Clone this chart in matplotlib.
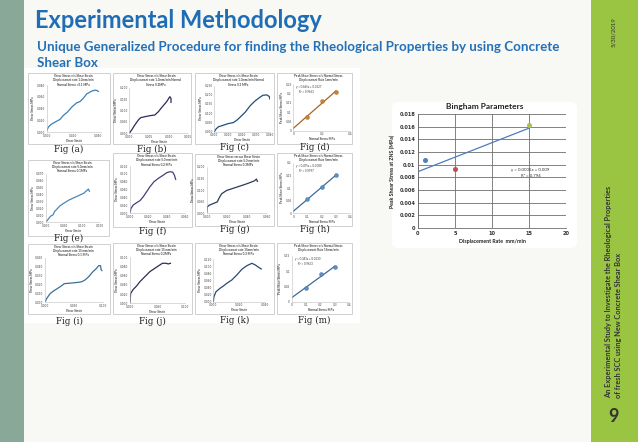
import numpy as np
import matplotlib
matplotlib.use("Agg")
from matplotlib import pyplot as plt
from matplotlib.patches import Rectangle, FancyBboxPatch

# --- shear stress vs shear strain curves (strain, MPa) ---
a_strain = [0, 0.0013, 0.0031, 0.0065, 0.0103, 0.0129, 0.016, 0.0194, 0.0232, 0.0258, 0.0284, 0.031, 0.0348, 0.0374, 0.0392, 0.040]
a_stress = [0.002, 0.0085, 0.0124, 0.0169, 0.0214, 0.0282, 0.0338, 0.0423, 0.0496, 0.0518, 0.0575, 0.0648, 0.0695, 0.0712, 0.0705, 0.0690]
b_strain = [0, 0.0006, 0.0014, 0.0023, 0.0029, 0.004, 0.0053, 0.0065, 0.0074, 0.0082, 0.0095, 0.0103, 0.0106, 0.0106]
b_stress = [0, 0.0146, 0.0365, 0.0584, 0.0686, 0.073, 0.0774, 0.0803, 0.0949, 0.1124, 0.1387, 0.1606, 0.1533, 0.1358]
c_strain = [0, 0.0012, 0.0029, 0.0065, 0.0101, 0.0137, 0.0161, 0.0186, 0.0222, 0.0258, 0.0294, 0.0325, 0.0349, 0.0378, 0.0395, 0.040]
c_stress = [0, 0.0141, 0.0264, 0.0352, 0.044, 0.0493, 0.0616, 0.0792, 0.1056, 0.1408, 0.1673, 0.1849, 0.1972, 0.199, 0.1901, 0.1761]
e_strain = [0, 0.0063, 0.0125, 0.0196, 0.0241, 0.0304, 0.0375, 0.0464, 0.0554, 0.0643, 0.0732, 0.0821, 0.0955, 0.1045, 0.1134, 0.1179, 0.1205]
e_stress = [0, 0.0042, 0.0084, 0.0105, 0.0155, 0.0188, 0.023, 0.0264, 0.0293, 0.0322, 0.0343, 0.0364, 0.0397, 0.0418, 0.046, 0.0481, 0.0448]
f_strain = [0, 0.0011, 0.0036, 0.0073, 0.0109, 0.0145, 0.0182, 0.0218, 0.0262, 0.0309, 0.0364, 0.040, 0.0436, 0.0465, 0.0484, 0.0498]
f_stress = [0, 0.0127, 0.0211, 0.027, 0.0321, 0.0422, 0.0549, 0.0675, 0.0802, 0.0886, 0.097, 0.1029, 0.1055, 0.1046, 0.097, 0.0861]
g_strain = [0, 0.0007, 0.0026, 0.0066, 0.0105, 0.0125, 0.0148, 0.0197, 0.0246, 0.0295, 0.0344, 0.041, 0.0475, 0.0492, 0.0502]
g_stress = [0, 0.0282, 0.0352, 0.0423, 0.0493, 0.0676, 0.0845, 0.0986, 0.1056, 0.1127, 0.1197, 0.1296, 0.1408, 0.1479, 0.138]
i_strain = [0, 0.003, 0.009, 0.0151, 0.0211, 0.0271, 0.0331, 0.0452, 0.0572, 0.0633, 0.0693, 0.0753, 0.0813, 0.0873, 0.0922, 0.0952, 0.0964, 0.0976]
i_stress = [0, 0.0044, 0.0099, 0.0128, 0.0153, 0.0179, 0.0208, 0.0215, 0.0223, 0.023, 0.0252, 0.0288, 0.0336, 0.0372, 0.0409, 0.0409, 0.0361, 0.0354]
j_strain = [0, 0.0012, 0.006, 0.012, 0.0181, 0.0271, 0.0361, 0.0452, 0.0542, 0.059, 0.0663, 0.0693, 0.0735]
j_stress = [0, 0.0217, 0.0304, 0.0377, 0.0471, 0.058, 0.0688, 0.0761, 0.0833, 0.087, 0.087, 0.0855, 0.087]
k_strain = [0, 0.0005, 0.0021, 0.0052, 0.0078, 0.0104, 0.0143, 0.0182, 0.0221, 0.026, 0.0299, 0.0325, 0.0351, 0.0371]
k_stress = [0, 0.0142, 0.0283, 0.0378, 0.0444, 0.052, 0.0614, 0.0756, 0.0917, 0.102, 0.1087, 0.1039, 0.0973, 0.0926]

# --- peak shear stress vs normal stress (MPa) ---
normal_stress = [0.1, 0.2, 0.3]
d_peak = [0.072, 0.160, 0.205]
h_peak = [0.056, 0.102, 0.151]
m_peak = [0.0435, 0.089, 0.112]

# --- Bingham parameters ---
disp_rate = [1, 5, 15]
zns_stress = [0.0107, 0.0093, 0.0163]
bingham_colors = ["#4f81bd", "#c0504d", "#a9c24a"]
bingham_xticks = [0, 5, 10, 15, 20]
bingham_yticks = [0, 0.002, 0.004, 0.006, 0.008, 0.01, 0.012, 0.014, 0.016, 0.018]

W, H = 638, 442
SANS = "Lato"
fig = plt.figure(figsize=(W / 100, H / 100), dpi=100)
fig.patch.set_facecolor("#f8f8f4")


def rect(x0, y0, x1, y1):
    return [x0 / W, 1 - y1 / H, (x1 - x0) / W, (y1 - y0) / H]


def box(x0, y0, x1, y1, fc, ec="none", lw=0):
    r = rect(x0, y0, x1, y1)
    fig.add_artist(Rectangle((r[0], r[1]), r[2], r[3], transform=fig.transFigure,
                             facecolor=fc, edgecolor=ec, lw=lw, zorder=0))


def ftext(x, y, s, **kw):
    return fig.text(x / W, 1 - y / H, s, **kw)


# slide decoration
box(0, 0, 24, H, "#8aa897")
box(591, 0, W, H, "#9ac543")
box(24, 68, 360, 323, "white")

ftext(35, 20, "Experimental Methodology", fontsize=17, fontweight="bold",
      color="#1f6db5", family=SANS, va="center")
ftext(37, 47, "Unique Generalized Procedure for finding the Rheological Properties by using Concrete",
      fontsize=9.6, fontweight="bold", color="#2470b8", family=SANS, va="center")
ftext(37, 63, "Shear Box", fontsize=9.6, fontweight="bold", color="#2470b8", family=SANS, va="center")
ftext(614, 32, "5/30/2019", fontsize=4.3, rotation=90, color="#333333", family=SANS, ha="center", va="center")
ftext(609, 398, "An Experimental Study to Investigate the Rheological Properties", fontsize=5.3,
      fontweight="bold", rotation=90, color="#333333", family=SANS, ha="center", va="bottom")
ftext(618, 398, "of fresh SCC using New Concrete Shear Box", fontsize=5.3,
      fontweight="bold", rotation=90, color="#333333", family=SANS, ha="center", va="bottom")
ftext(613, 416, "9", fontsize=13, fontweight="bold", color="#333333", family=SANS, ha="center", va="center")


def small_axes(bx, area, title, xlim, xticks, ylim, yticks, fmt, xlabel, ylabel, fig_label, label_y):
    box(*bx, "white", "#c9c9c9", 0.6)
    ftext((bx[0] + bx[2]) / 2 + 4, bx[1] + 1.2, title, fontsize=2.2, fontweight="bold",
          color="#404040", family=SANS, ha="center", va="top", linespacing=1.05)
    ftext((bx[0] + bx[2]) / 2, label_y, fig_label, fontsize=6.3, family="DejaVu Serif",
          color="#222222", ha="center", va="center")
    ax = fig.add_axes(rect(*area))
    ax.patch.set_alpha(0)
    ax.set_xlim(*xlim)
    ax.set_ylim(*ylim)
    ax.set_xticks(xticks)
    ax.set_yticks(yticks)
    ax.set_xticklabels([fmt(v) for v in xticks])
    ax.set_yticklabels([fmt(v) for v in yticks])
    ax.tick_params(labelsize=2.1, length=0, pad=1.2, colors="#404040")
    for s in ["top", "right"]:
        ax.spines[s].set_visible(False)
    for s in ["left", "bottom"]:
        ax.spines[s].set_color("#bdbdbd")
        ax.spines[s].set_linewidth(0.4)
    ax.set_xlabel(xlabel, fontsize=2.2, fontweight="bold", color="#404040", labelpad=0.8, family=SANS)
    ax.set_ylabel(ylabel, fontsize=2.2, fontweight="bold", color="#404040", labelpad=1.0, family=SANS)
    return ax


f3 = lambda v: f"{v:.3f}"
fg = lambda v: f"{v:g}"

strain_charts = [
    (a_strain, a_stress, "#3c7fb1", (28, 73, 110, 144), (46.7, 85, 100.9, 132),
     "Shear Stress v/s Shear Strain\nDisplacement rate 1.0mm/min\nNormal Stress =0.1 MPa",
     (0, 0.042), [0, 0.02, 0.04], (0, 0.08), [0, 0.02, 0.04, 0.06, 0.08], "Fig (a)", 149),
    (b_strain, b_stress, "#2e2a5c", (113, 73, 191, 144), (129.3, 87.7, 188.3, 133.3),
     "Shear Stress v/s Shear Strain\nDisplacement rate 1.0mm/min Normal\nStress 0.2MPa",
     (0, 0.015), [0, 0.005, 0.01, 0.015], (0, 0.2), [0, 0.05, 0.1, 0.15, 0.2], "Fig (b)", 149),
    (c_strain, c_stress, "#1f4e79", (195, 73, 274, 144), (214.3, 85.5, 270, 131.7),
     "Shear Stress v/s Shear Strain\nDisplacement rate 1.0mm/min Normal\nStress 0.3 MPa",
     (0, 0.04), [0, 0.01, 0.02, 0.03, 0.04], (0, 0.25), [0, 0.05, 0.1, 0.15, 0.2, 0.25], "Fig (c)", 147),
    (e_strain, e_stress, "#4a86b8", (28, 160, 109, 236), (46, 174, 100, 222),
     "Shear Stress v/s Shear Strain\nDisplacement rate 5.0mm/min\nNormal Stress 0.1MPa",
     (0, 0.15), [0, 0.05, 0.1, 0.15], (0, 0.07), [0, 0.01, 0.02, 0.03, 0.04, 0.05, 0.06, 0.07], "Fig (e)", 238.5),
    (f_strain, f_stress, "#4b3c78", (113, 153, 192, 227), (130, 166, 185, 213.3),
     "Shear Stress v/s Shear Strain\nDisplacement rate 5.0 mm/min\nNormal Stress 0.2 MPa",
     (0, 0.06), [0, 0.02, 0.04, 0.06], (0, 0.12), [0, 0.02, 0.04, 0.06, 0.08, 0.1, 0.12], "Fig (f)", 231),
    (g_strain, g_stress, "#283c5a", (195, 154, 274, 226), (206.7, 167, 267.3, 213.3),
     "Shear Stress versus Shear Strain\nDisplacement rate 5.0 mm/min\nNormal Stress 0.3MPa",
     (0, 0.06), [0, 0.02, 0.04, 0.06], (0, 0.2), [0, 0.05, 0.1, 0.15, 0.2], "Fig (g)", 229),
    (i_strain, i_stress, "#3a6f96", (28, 244, 110, 314), (45, 257.5, 103.3, 302.3),
     "Shear Stress v/s Shear Strain\nDisplacement rate 15 mm/min\nNormal Stress 0.1 MPa",
     (0, 0.1), [0, 0.05, 0.1], (0, 0.05), [0, 0.01, 0.02, 0.03, 0.04, 0.05], "Fig (i)", 321),
    (j_strain, j_stress, "#2a2f55", (113, 243, 192, 314), (130, 257.3, 185, 303.3),
     "Shear Stress v/s Shear Strain\nDisplacement rate 15 mm/min\nNormal Stress 0.2MPa",
     (0, 0.1), [0, 0.05, 0.1], (0, 0.1), [0, 0.02, 0.04, 0.06, 0.08, 0.1], "Fig (j)", 321),
    (k_strain, k_stress, "#2b4a6e", (195, 243, 274, 314), (213.3, 259.3, 265, 301.7),
     "Shear Stress v/s Shear Strain\nDisplacement rate 15mm/min\nNormal Stress 0.3 MPa",
     (0, 0.04), [0, 0.02, 0.04], (0, 0.12), [0, 0.02, 0.04, 0.06, 0.08, 0.1, 0.12], "Fig (k)", 320),
]

for xs, ys, col, bx, area, title, xlim, xt, ylim, yt, lab, ly in strain_charts:
    ax = small_axes(bx, area, title, xlim, xt, ylim, yt, f3, "Shear Strain", "Shear Stress MPa", lab, ly)
    ax.plot(xs, ys, color=col, lw=0.9)

peak_charts = [
    (d_peak, "#c88434", "#a8651f", (277, 73, 352, 144), (293.3, 84, 350, 130.7),
     "Peak Shear Stress v/s Normal Stress\nDisplacement Rate 1mm/min",
     [0, 0.2, 0.4], (0, 0.25), [0, 0.05, 0.1, 0.15, 0.2, 0.25], "Fig (d)", 147),
    (h_peak, "#5b8fc7", "#3d6a9a", (277, 153, 352, 226), (293.3, 162.7, 350, 213.3),
     "Peak Shear Stress v/s Normal Stress\nDisplacement Rate 5mm/min",
     [0, 0.1, 0.2, 0.3, 0.4], (0, 0.2), [0, 0.05, 0.1, 0.15, 0.2], "Fig (h)", 229),
    (m_peak, "#5b8fc7", "#3d6a9a", (277, 243, 352, 314), (291.7, 255.7, 349.3, 301.7),
     "Peak Shear Stress v/s Normal Stress\nDisplacement Rate 15mm/min",
     [0, 0.1, 0.2, 0.3, 0.4], (0, 0.15), [0, 0.05, 0.1, 0.15], "Fig (m)", 320),
]

for ys, mc, lc, bx, area, title, xt, ylim, yt, lab, ly in peak_charts:
    ax = small_axes(bx, area, title, (0, 0.4), xt, ylim, yt, fg, "Normal Stress MPa",
                    "Peak Shear Stress MPa", lab, ly)
    slope, icpt = np.polyfit(normal_stress, ys, 1)
    pred = slope * np.array(normal_stress) + icpt
    r2 = 1 - np.sum((np.array(ys) - pred) ** 2) / np.sum((np.array(ys) - np.mean(ys)) ** 2)
    xl = np.array([0, normal_stress[-1]])
    ax.plot(xl, slope * xl + icpt, color=lc, lw=0.9)
    ax.plot(normal_stress, ys, "o", color=mc, ms=2.8, mec=lc, mew=0.3)
    ax.text(0.05, 0.97, f"y = {slope:.3f}x + {icpt:.4f}\n    R² = {r2:.4f}", transform=ax.transAxes,
            fontsize=2.1, color="#404040", va="top", family=SANS)

# --- Bingham parameters chart ---
fig.add_artist(FancyBboxPatch((392 / 100, (H - 248) / 100), 185 / 100, 146 / 100,
                              boxstyle="round,pad=0,rounding_size=0.06",
                              transform=fig.dpi_scale_trans, facecolor="white",
                              edgecolor="none", zorder=0))
ftext(485, 106, "Bingham Parameters", fontsize=6, fontweight="bold", color="#222222",
      family=SANS, ha="center", va="center")
ax = fig.add_axes(rect(418, 114, 566, 228))
ax.patch.set_alpha(0)
ax.set_xlim(0, 20)
ax.set_ylim(0, 0.018)
ax.set_xticks(bingham_xticks)
ax.set_yticks(bingham_yticks)
ax.set_yticklabels([f"{v:g}" for v in bingham_yticks])
ax.grid(True, color="#6e6e6e", lw=0.6)
ax.set_axisbelow(True)
for s in ["top", "right"]:
    ax.spines[s].set_visible(False)
for s in ["left", "bottom"]:
    ax.spines[s].set_color("#6e6e6e")
    ax.spines[s].set_linewidth(0.6)
ax.tick_params(labelsize=3.6, length=0, pad=2, colors="#333333")
for lbl in ax.get_xticklabels() + ax.get_yticklabels():
    lbl.set_fontweight("bold")
slope, icpt = np.polyfit(disp_rate, zns_stress, 1)
pred = slope * np.array(disp_rate) + icpt
r2 = 1 - np.sum((np.array(zns_stress) - pred) ** 2) / np.sum((np.array(zns_stress) - np.mean(zns_stress)) ** 2)
xl = np.array([0, disp_rate[-1]])
ax.plot(xl, slope * xl + icpt, color="#4a7ebb", lw=0.9, zorder=3)
for xv, yv, c in zip(disp_rate, zns_stress, bingham_colors):
    ax.plot(xv, yv, "o", color=c, ms=2.6, zorder=4)
ax.text(15.2, 0.0087, f"y = {slope:.4f}x + {icpt:.3f}\nR² = {r2:.3f}", fontsize=3.1,
        color="#333333", ha="center", va="center", family=SANS, linespacing=1.5)
ax.set_xlabel("Displacement Rate  mm/min", fontsize=3.8, fontweight="bold", color="#222222",
              labelpad=2, family=SANS)
ax.set_ylabel("Peak Shear Stress at ZNS (MPa)", fontsize=3.8, fontweight="bold", color="#222222",
              labelpad=3, family=SANS)

fig.savefig("out.png", dpi=100, facecolor=fig.get_facecolor())
